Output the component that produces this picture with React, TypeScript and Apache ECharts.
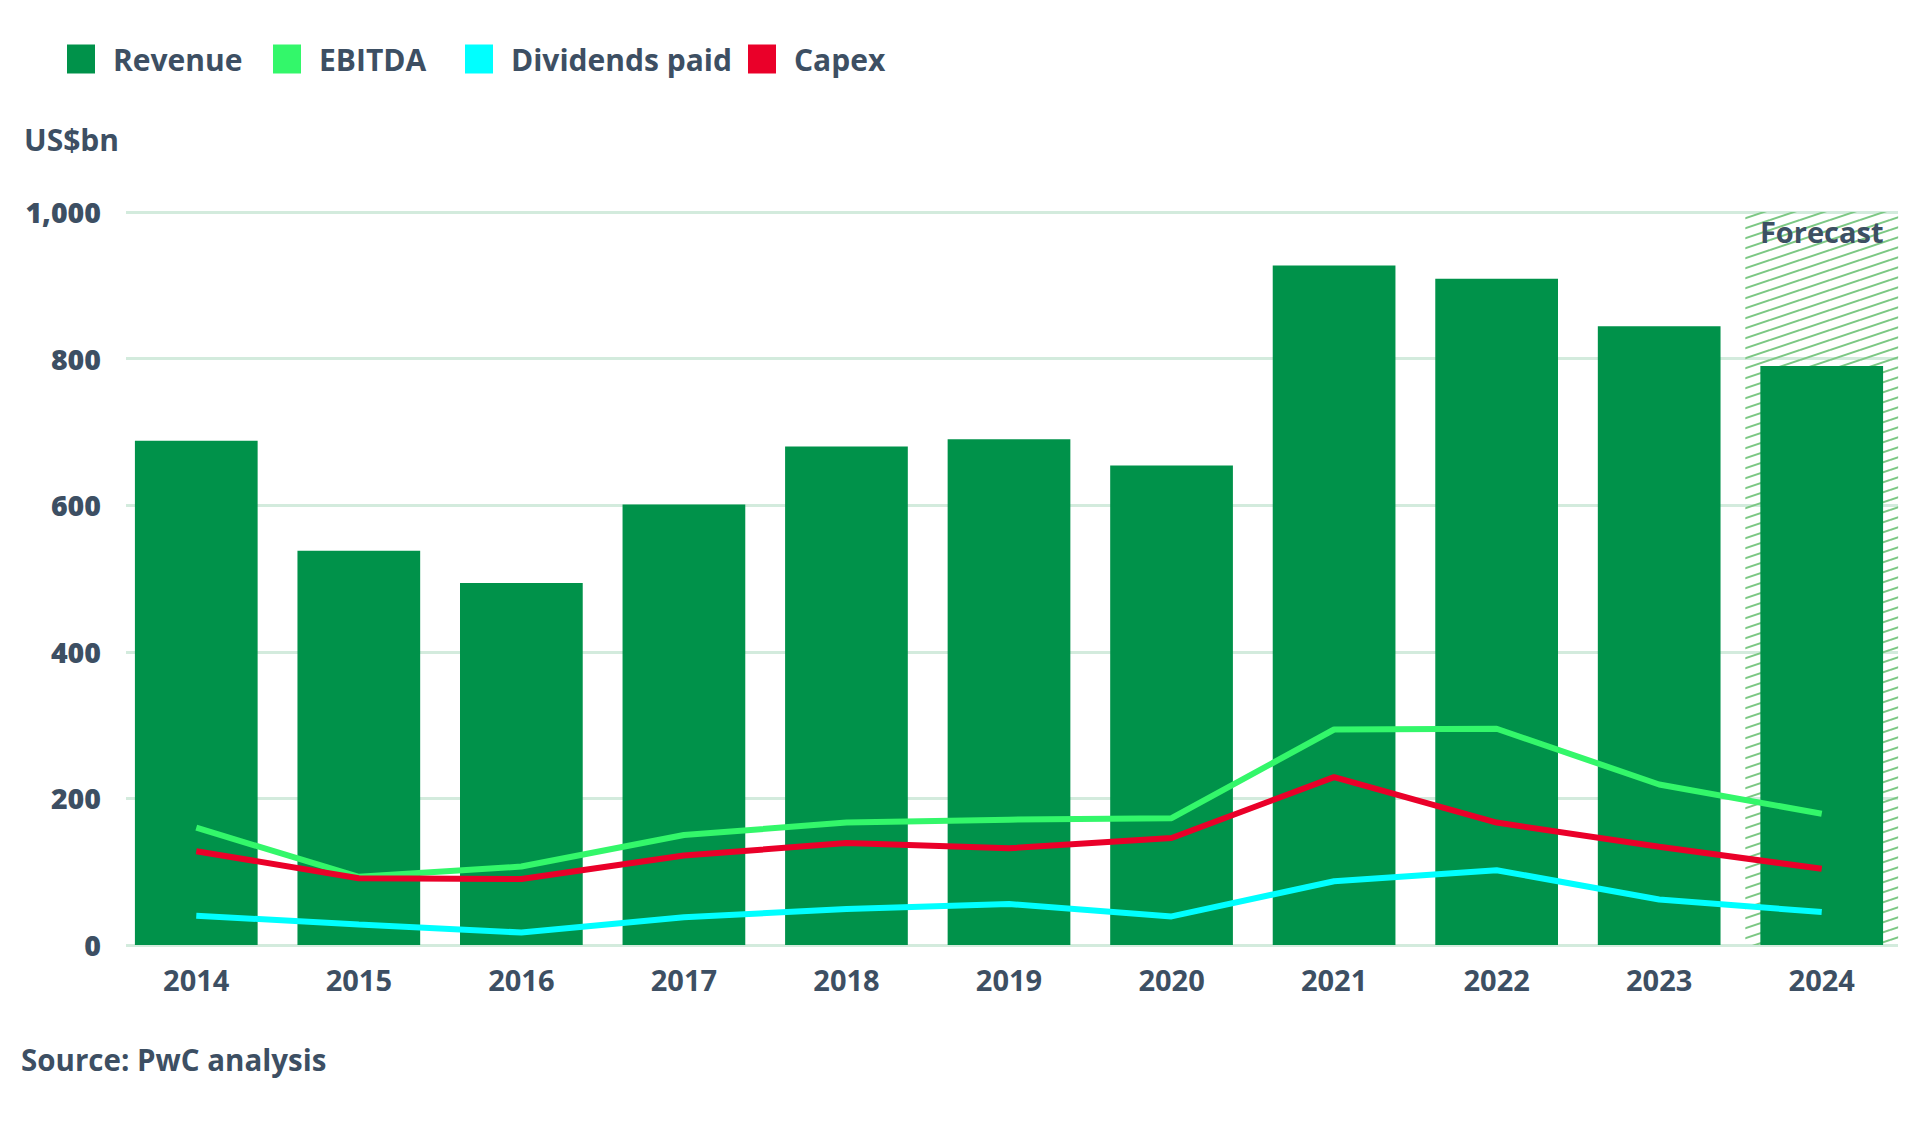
import React, { useEffect, useRef } from "react";
import * as echarts from "echarts";

// Annual figures, US$bn
const years = ["2014", "2015", "2016", "2017", "2018", "2019", "2020", "2021", "2022", "2023", "2024"];
const forecastYears = ["2024"];
const revenue = [688, 538, 494, 601, 680, 690, 654, 927, 909, 844, 790];
const ebitda = [160, 93, 107, 150, 167, 171, 173, 294, 295, 219, 179];
const dividends = [40, 28, 17, 38, 49, 56, 39, 87, 102, 62, 45];
const capex = [128, 91, 90, 122, 139, 132, 146, 229, 167, 134, 104];

const yMin = 0;
const yMax = 1000;
const yStep = 200;

const TEXT = "#3d4f63";
const FONT = "'Open Sans', 'Noto Sans', sans-serif";
const COLORS = {
  revenue: "#00924a",
  ebitda: "#33f76a",
  dividends: "#00ffff",
  capex: "#ea0029",
  grid: "#d3ebdd",
  hatch: "#7cc884",
};

// Diagonal hatch tile for the forecast band
const hatchSvg =
  "<svg xmlns='http://www.w3.org/2000/svg' width='30' height='10'>" +
  "<path d='M0 10L30 0M0 20L30 10M0 0L30 -10' stroke='" +
  COLORS.hatch +
  "' stroke-width='2' fill='none'/></svg>";
const hatchUrl = "data:image/svg+xml;charset=utf-8," + encodeURIComponent(hatchSvg);

export default function App() {
  const ref = useRef<HTMLDivElement>(null);

  useEffect(() => {
    document.body.style.margin = "0";
    if (!ref.current) return;
    const chart = echarts.init(ref.current, null, { renderer: "svg" });

    const legendItem = (name: string, left: number) => ({
      data: [name],
      left,
      top: 44,
      padding: 0,
      itemWidth: 28,
      itemHeight: 29,
      icon: "rect",
      textStyle: {
        color: TEXT,
        fontFamily: FONT,
        fontWeight: 700,
        fontSize: 30,
        padding: [0, 0, 0, 13],
      },
    });

    const top = 212;
    const bottom = 180;

    chart.setOption({
      animation: false,
      backgroundColor: "#ffffff",
      textStyle: { fontFamily: FONT },
      title: [
        {
          text: "US$bn",
          left: 19,
          top: 119,
          textStyle: { color: TEXT, fontFamily: FONT, fontWeight: 700, fontSize: 30 },
        },
        {
          text: "Source: PwC analysis",
          left: 16,
          top: 1039,
          textStyle: { color: TEXT, fontFamily: FONT, fontWeight: 700, fontSize: 29.5 },
        },
      ],
      legend: [
        legendItem("Revenue", 67),
        legendItem("EBITDA", 273),
        legendItem("Dividends paid", 465),
        legendItem("Capex", 748),
      ],
      grid: [
        // gridlines and value labels
        { left: 126, right: 22, top, bottom },
        // bars and lines
        { left: 115, right: 17, top, bottom },
      ],
      xAxis: [
        { type: "category", gridIndex: 0, data: years, show: false },
        {
          type: "category",
          gridIndex: 1,
          data: years,
          axisLine: { show: false },
          axisTick: { show: false },
          axisLabel: {
            color: TEXT,
            fontFamily: FONT,
            fontWeight: 700,
            fontSize: 29,
            margin: 20,
          },
        },
        { type: "category", gridIndex: 1, data: years, show: false, position: "top" },
      ],
      yAxis: [
        {
          type: "value",
          gridIndex: 0,
          min: yMin,
          max: yMax,
          interval: yStep,
          axisLine: { show: false },
          axisTick: { show: false },
          splitLine: { lineStyle: { color: COLORS.grid, width: 3 } },
          axisLabel: {
            color: TEXT,
            fontFamily: FONT,
            fontWeight: 800,
            fontSize: 28.5,
            margin: 25,
            formatter: (v: number) => v.toLocaleString("en-US"),
          },
        },
        { type: "value", gridIndex: 1, min: yMin, max: yMax, interval: yStep, show: false },
      ],
      series: [
        {
          name: "Forecast",
          type: "bar",
          xAxisIndex: 2,
          yAxisIndex: 1,
          z: 1,
          barWidth: "94%",
          silent: true,
          data: years.map((y) => (forecastYears.includes(y) ? yMax : null)),
          itemStyle: {
            color: {
              image: hatchUrl,
              repeat: "repeat",
              imageWidth: 30,
              imageHeight: 10,
            } as any,
          },
          label: {
            show: true,
            position: "insideTop",
            distance: 5,
            formatter: "Forecast",
            color: TEXT,
            fontFamily: FONT,
            fontWeight: 700,
            fontSize: 29,
          },
        },
        {
          name: "Revenue",
          type: "bar",
          xAxisIndex: 1,
          yAxisIndex: 1,
          z: 2,
          barWidth: "75.5%",
          data: revenue,
          itemStyle: { color: COLORS.revenue },
        },
        {
          name: "EBITDA",
          type: "line",
          xAxisIndex: 1,
          yAxisIndex: 1,
          z: 3,
          symbol: "none",
          data: ebitda,
          itemStyle: { color: COLORS.ebitda },
          lineStyle: { color: COLORS.ebitda, width: 6 },
        },
        {
          name: "Dividends paid",
          type: "line",
          xAxisIndex: 1,
          yAxisIndex: 1,
          z: 3,
          symbol: "none",
          data: dividends,
          itemStyle: { color: COLORS.dividends },
          lineStyle: { color: COLORS.dividends, width: 6 },
        },
        {
          name: "Capex",
          type: "line",
          xAxisIndex: 1,
          yAxisIndex: 1,
          z: 3,
          symbol: "none",
          data: capex,
          itemStyle: { color: COLORS.capex },
          lineStyle: { color: COLORS.capex, width: 6 },
        },
      ],
    });

    return () => chart.dispose();
  }, []);

  return <div ref={ref} style={{ width: 1920, height: 1125 }} />;
}
